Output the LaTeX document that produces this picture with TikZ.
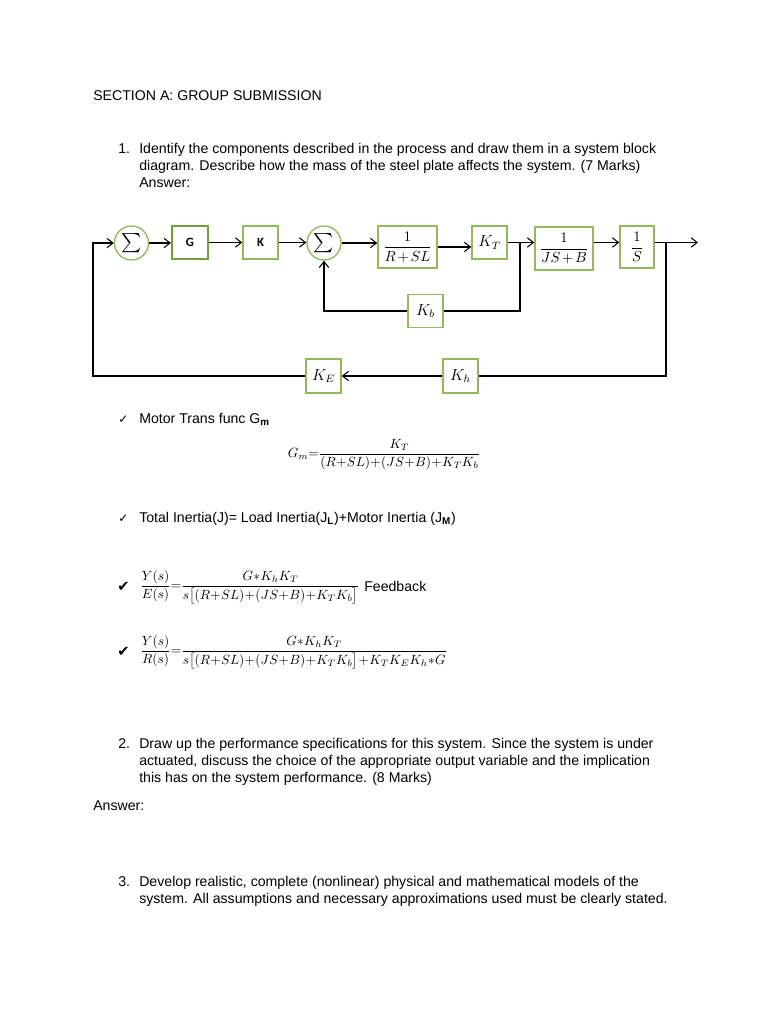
\documentclass[tikz,border=0pt]{standalone}
\usepackage{amsmath}
\usepackage{fontspec}
\setmainfont{Liberation Sans}
\newfontfamily\dejavu{DejaVu Sans}
\newfontfamily\carlito{Carlito}
\usetikzlibrary{arrows.meta}
\definecolor{boxgreen}{RGB}{145,186,92}
\definecolor{gboxgreen}{RGB}{112,160,62}
\begin{document}
\begin{tikzpicture}[x=0.75pt,y=-0.75pt,
  txt/.style={anchor=base west, inner sep=0pt, font=\fontsize{10.6}{12}\selectfont},
  eqn/.style={inner sep=0pt, font=\fontsize{9.7}{11}\selectfont},
  blk/.style={draw=boxgreen, line width=1.1pt, inner sep=0pt, fill=white, font=\fontsize{10.5}{12}\selectfont},
  sblk/.style={blk, minimum width=26.25pt, minimum height=24.75pt},
  sumc/.style={circle, draw=boxgreen, line width=1pt, minimum size=25.5pt, inner sep=0pt, fill=white},
  wire/.style={line width=0.8pt},
  arr/.style={wire, -{Straight Barb[length=4.5pt,width=7pt]}},
  chk/.style={anchor=base west, inner sep=0pt, font=\dejavu\fontsize{9}{10}\selectfont},
  bchk/.style={anchor=west, inner sep=0pt, font=\dejavu\fontsize{11}{12}\selectfont},
  lbl/.style={font=\carlito\bfseries\fontsize{9.5}{10}\selectfont}
]
\useasboundingbox (0,0) rectangle (768,1024);
\fill[white] (0,0) rectangle (768,1024);

% ---- header text ----
\node[txt] (title) at (93,100) {SECTION A: GROUP SUBMISSION};
\node[txt] (n1) at (118,153) {1.};
\node[txt] (q1a) at (139,153) {Identify the components described in the process and draw them in a system block};
\node[txt] (q1b) at (139,170) {diagram. Describe how the mass of the steel plate affects the system. (7 Marks)};
\node[txt] (q1c) at (139,187) {Answer:};

% ---- block diagram ----
\node[sumc] (s1) at (131.5,243) {\fontsize{15}{15}\selectfont$\sum$};
\node[blk, draw=gboxgreen, line width=1.6pt, minimum width=27pt, minimum height=24.75pt, lbl] (G) at (190,242.5) {G};
\node[sblk, lbl] (K) at (260.5,242.5) {K};
\node[sumc] (s2) at (324,243) {\fontsize{15}{15}\selectfont$\sum$};
\node[blk, minimum width=44.25pt, minimum height=31.5pt] (R) at (407.5,247) {\medmuskip=2mu $\dfrac{1}{R+SL}$};
\node[sblk, font=\fontsize{11.5}{12}\selectfont] (KT) at (489.5,242.5) {$K_T$};
\node[blk, minimum width=43.5pt, minimum height=32.25pt] (JS) at (564,248.5) {\medmuskip=2mu $\dfrac{1}{JS+B}$};
\node[blk, minimum width=25.5pt, minimum height=31.5pt] (S) at (637,247) {$\dfrac{1}{S}$};
\node[sblk, font=\fontsize{11.5}{12}\selectfont] (Kb) at (425.5,311) {$K_b$};
\node[blk, minimum width=26.25pt, minimum height=25.5pt, font=\fontsize{11.5}{12}\selectfont] (KE) at (323.5,376) {$K_E$};
\node[blk, minimum width=26.25pt, minimum height=25.5pt, font=\fontsize{11.5}{12}\selectfont] (Kh) at (460.5,376) {$K_h$};

\coordinate (out) at (698,242.5);
\coordinate (br1) at (520,242.5);
\coordinate (br2) at (666,242.5);
\coordinate (fbl) at (93,376);

\draw[arr] (s1.east) -- (s1.east -| G.west);
\draw[arr] (G.east) -- (K.west);
\draw[arr] (K.east) -- (K.east -| s2.west);
\draw[arr] (s2.east) -- (s2.east -| R.west);
\draw[arr] (R.east) -- (R.east -| KT.west);
\draw[arr] (KT.east) -- (KT.east -| JS.west);
\draw[arr] (JS.east |- KT.east) -- (S.west |- KT.east);
\draw[arr] (S.east |- KT.east) -- (out);
\draw[wire] (br1) |- (Kb.east);
\draw[arr] (Kb.west) -| (s2.south);
\draw[wire] (br2) |- (Kh.east);
\draw[arr] (Kh.west) -- (KE.east);
\draw[arr] (KE.west) -- (fbl) |- (s1.west);

% ---- equations and bullets ----
\node[chk] (c1) at (118,423) {✓};
\node[txt] (t1) at (139,423) {Motor Trans func G\textsubscript{\textbf{m}}};
\node[eqn] (eq1) at (384,455) {\medmuskip=0.5mu $G_m{=}\dfrac{K_T}{(R+SL)+(JS+B)+K_T K_b}$};

\node[chk] (c2) at (118,522) {✓};
\node[txt] (t2) at (139,522) {Total Inertia(J)= Load Inertia(J\textsubscript{\textbf{L}})+Motor Inertia (J\textsubscript{\textbf{M}})};

\node[bchk] (c3) at (117,587) {✔};
\node[eqn, anchor=west] (eq3) at (140,587) {\medmuskip=0.5mu $\dfrac{Y(s)}{E(s)}{=}\dfrac{G*K_hK_T}{s\big[(R+SL)+(JS+B)+K_TK_b\big]}$};
\node[txt] (fb) at (364,591) {Feedback};

\node[bchk] (c4) at (117,652) {✔};
\node[eqn, anchor=west] (eq4) at (140,652) {\medmuskip=0.5mu $\dfrac{Y(s)}{R(s)}{=}\dfrac{G*K_hK_T}{s\big[(R+SL)+(JS+B)+K_TK_b\big]+K_TK_EK_h*G}$};

% ---- question 2 and 3 ----
\node[txt] (n2) at (118,748) {2.};
\node[txt] (q2a) at (139,748) {Draw up the performance specifications for this system. Since the system is under};
\node[txt] (q2b) at (139,765) {actuated, discuss the choice of the appropriate output variable and the implication};
\node[txt] (q2c) at (139,782) {this has on the system performance. (8 Marks)};
\node[txt] (ans2) at (93,810) {Answer:};
\node[txt] (n3) at (118,886) {3.};
\node[txt] (q3a) at (139,886) {Develop realistic, complete (nonlinear) physical and mathematical models of the};
\node[txt] (q3b) at (139,903) {system. All assumptions and necessary approximations used must be clearly stated.};
\end{tikzpicture}
\end{document}
